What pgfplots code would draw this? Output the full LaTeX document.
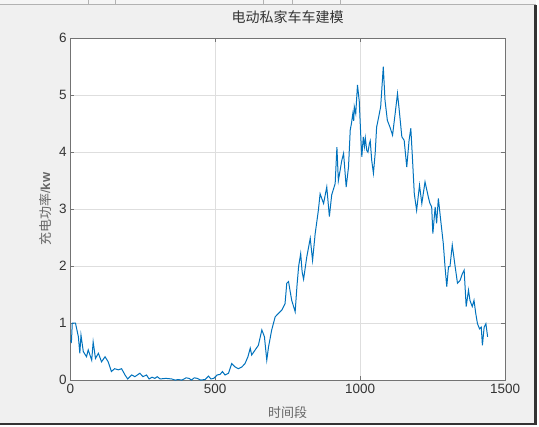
\documentclass[border=0pt]{standalone}
\usepackage{pgfplots}
\pgfplotsset{compat=1.18}
\usepackage{fontspec}
\setmainfont{Liberation Sans}
\newfontfamily\cjk{Noto Sans CJK SC}
\definecolor{mblue}{rgb}{0,0.447,0.741}
\definecolor{figbg}{HTML}{F0F0F0}
\begin{document}
\begin{tikzpicture}[x=1pt,y=1pt]
\fill[figbg] (0,0) rectangle (539,426);
\fill[white!96!black] (0,422) rectangle (539,426);
\draw[gray!60, line width=0.6pt] (0,421.5) -- (536,421.5);
\foreach \sx in {88,115,263,292,340} {\draw[gray!60, line width=0.6pt] (\sx,421.5) -- (\sx,426);}
\fill[white] (536,0) rectangle (539,426);
\fill[white] (0,0) rectangle (539,1.5);
\fill[gray!40!black] (534,2) rectangle (536.5,421.5);
\fill[gray!40!black] (0,1.5) rectangle (536.5,3.5);
\begin{axis}[
  at={(70pt,46pt)}, anchor=south west, scale only axis,
  width=435pt, height=342pt,
  xmin=0, xmax=1500, ymin=0, ymax=6,
  xtick={0,500,1000,1500}, ytick={0,1,2,3,4,5,6},
  /pgf/number format/1000 sep={},
  scaled ticks=false,
  grid=major, major grid style={color=black!13, line width=0.6pt},
  tick align=inside, tick pos=both, major tick length=4pt,
  axis line style={black!55, line width=0.7pt},
  tick style={black!55, line width=0.7pt},
  axis background/.style={fill=white},
  /pgf/number format/assume math mode=true,
  ticklabel style={font=\fontsize{13.5}{14}\selectfont, text=black!80},
  title={\cjk 电动私家车车建模},
  title style={font=\fontsize{14}{14}\selectfont, text=black!80, at={(axis description cs:0.5,1.044)}, anchor=center},
  xlabel={\cjk 时间段},
  xlabel style={font=\fontsize{13}{13}\selectfont, text=black!60, at={(axis description cs:0.5,-0.094)}, anchor=center},
  ylabel={{\cjk 充电功率}/\textbf{kw}},
  ylabel style={font=\fontsize{13}{13}\selectfont, text=black!60, at={(axis description cs:-0.0575,0.5)}, anchor=center},
]
\addplot[color=mblue, line width=1pt] coordinates {
(0,0.70)(4,0.67)(7,1.00)(18,1.00)(28,0.76)(33,0.47)(37,0.79)(45,0.50)(56,0.41)(62,0.53)
(74,0.35)(79,0.67)(87,0.38)(97,0.47)(108,0.32)(120,0.41)(131,0.32)(142,0.15)(153,0.20)(166,0.18)
(177,0.20)(189,0.09)(198,0.02)(212,0.09)(223,0.06)(240,0.12)(251,0.06)(263,0.09)(272,0.02)(282,0.05)
(292,0.03)(300,0.06)(310,0.02)(330,0.03)(350,0.02)(362,0.00)(372,0.01)(385,0.00)(400,0.04)(410,0.03)
(418,0.00)(428,0.04)(438,0.03)(450,0.00)(465,0.01)(477,0.07)(485,0.02)(495,0.03)(507,0.09)(517,0.10)
(525,0.15)(534,0.09)(546,0.12)(557,0.29)(569,0.23)(580,0.20)(592,0.23)(603,0.29)(613,0.41)(621,0.56)
(626,0.44)(638,0.53)(649,0.61)(661,0.88)(670,0.76)(678,0.35)(684,0.58)(695,0.88)(707,1.11)(718,1.17)
(730,1.23)(741,1.34)(747,1.70)(753,1.73)(764,1.40)(776,1.20)(782,1.64)(788,2.00)(795,2.22)(800,1.90)
(805,1.77)(816,2.16)(828,2.49)(836,2.10)(845,2.57)(856,2.98)(862,3.27)(874,3.10)(885,3.39)(894,2.87)
(902,3.25)(914,3.45)(920,4.09)(925,3.50)(937,3.86)(943,3.98)(952,3.39)(960,3.74)(966,4.39)(970,4.50)(975,4.68)
(978,4.55)(980,4.80)(985,4.68)(991,5.18)(997,4.90)(1003,4.21)(1006,3.92)(1011,4.27)(1015,4.10)(1018,4.25)(1023,4.03)(1027,4.00)(1032,4.15)(1035,4.20)(1040,3.86)
(1046,3.63)(1052,3.98)(1057,4.44)(1063,4.59)(1071,4.80)(1080,5.50)(1086,4.91)(1094,4.56)(1103,4.44)(1112,4.30)
(1121,4.68)(1129,5.03)(1135,4.74)(1144,4.27)(1152,4.21)(1161,3.74)(1169,4.21)(1175,4.42)(1181,3.86)(1187,3.27)
(1195,2.98)(1205,3.42)(1213,3.10)(1224,3.48)(1236,3.20)(1241,3.10)(1247,3.04)(1251,2.57)(1259,3.04)(1264,2.75)
(1270,3.19)(1278,2.81)(1287,2.40)(1293,1.99)(1299,1.64)(1305,1.99)(1310,1.99)(1318,2.37)(1328,1.99)(1336,1.70)
(1345,1.75)(1353,1.87)(1359,1.93)(1366,1.29)(1374,1.58)(1379,1.40)(1387,1.29)(1393,1.40)(1399,1.17)(1405,0.99)
(1412,0.90)(1418,0.93)(1422,0.61)(1428,0.93)(1434,0.99)(1440,0.76)
};
\end{axis}
\end{tikzpicture}
\end{document}
